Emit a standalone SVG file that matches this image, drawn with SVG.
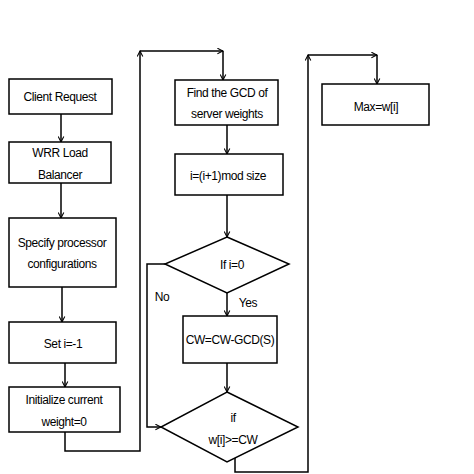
<svg xmlns="http://www.w3.org/2000/svg" width="474" height="474" viewBox="0 0 474 474">
<style>
.box{fill:#fff;stroke:#000;stroke-width:1.5}
.t{font-family:"Liberation Sans",Arial,sans-serif;font-size:12px;fill:#000;text-anchor:middle;letter-spacing:-0.4px}
.c{fill:none;stroke:#000;stroke-width:1.5}
</style>
<defs>
<marker id="a" viewBox="0 0 10 10" refX="9" refY="5" markerWidth="7" markerHeight="7" orient="auto" markerUnits="userSpaceOnUse">
<path d="M1,1 L9,5 L1,9" fill="none" stroke="#000" stroke-width="1.5"/>
</marker>
</defs>
<rect width="474" height="474" fill="#fff"/>
<g id="connectors">
<line class="c" x1="61" y1="114" x2="61" y2="142" marker-end="url(#a)"/>
<line class="c" x1="61" y1="183" x2="61" y2="218" marker-end="url(#a)"/>
<line class="c" x1="62" y1="287" x2="62" y2="322" marker-end="url(#a)"/>
<line class="c" x1="65" y1="363" x2="65" y2="387" marker-end="url(#a)"/>
<polyline class="c" points="65,432 65,451 140,451 140,51" marker-end="url(#a)"/>
<polyline class="c" points="140,51 223,51" marker-end="url(#a)"/>
<line class="c" x1="223" y1="51" x2="223" y2="80" marker-end="url(#a)"/>
<line class="c" x1="227" y1="125" x2="227" y2="154" marker-end="url(#a)"/>
<line class="c" x1="227" y1="195" x2="227" y2="237" marker-end="url(#a)"/>
<line class="c" x1="227" y1="293" x2="227" y2="316" marker-end="url(#a)"/>
<line class="c" x1="227" y1="363" x2="227" y2="392" marker-end="url(#a)"/>
<polyline class="c" points="165,264 147,264 147,427 161,427" marker-end="url(#a)"/>
<polyline class="c" points="235,457 235,472 308,472 308,55" stroke-width="2" marker-end="url(#a)"/>
<polyline class="c" points="308,55 377,55" marker-end="url(#a)"/>
<line class="c" x1="377" y1="55" x2="377" y2="84" marker-end="url(#a)"/>
<text class="t" x="162" y="301">No</text>
<text class="t" x="248" y="307">Yes</text>
</g>
<g id="client"><rect class="box" x="9" y="79" width="103" height="35"/><text class="t" x="60" y="101">Client Request</text></g>
<g id="wrr"><rect class="box" x="9" y="142" width="102" height="41"/><text class="t" x="60" y="157">WRR Load</text><text class="t" x="60" y="179">Balancer</text></g>
<g id="specify"><rect class="box" x="9" y="218" width="107" height="69"/><text class="t" x="62" y="247">Specify processor</text><text class="t" x="62" y="268">configurations</text></g>
<g id="seti"><rect class="box" x="9" y="322" width="107" height="41"/><text class="t" x="63" y="348">Set i=-1</text></g>
<g id="init"><rect class="box" x="9" y="387" width="111" height="45"/><text class="t" x="64" y="404">Initialize current</text><text class="t" x="64" y="426">weight=0</text></g>
<g id="gcd"><rect class="box" x="175" y="80" width="103" height="45"/><text class="t" x="227" y="97">Find the GCD of</text><text class="t" x="227" y="118">server weights</text></g>
<g id="imod"><rect class="box" x="175" y="154" width="108" height="41"/><text class="t" x="228" y="180">i=(i+1)mod size</text></g>
<g id="ifi0"><polygon class="box" points="227,237 289,264 227,293 165,264"/><text class="t" x="232" y="269">If i=0</text></g>
<g id="cw"><rect class="box" x="183" y="316" width="94" height="47"/><text class="t" x="230" y="344">CW=CW-GCD(S)</text></g>
<g id="ifw"><polygon class="box" points="227,392 298,427 227,462 161,427"/><text class="t" x="233" y="422">if</text><text class="t" x="233" y="444">w[i]&gt;=CW</text></g>
<g id="max"><rect class="box" x="322" y="84" width="107" height="41"/><text class="t" x="376" y="111">Max=w[i]</text></g>
</svg>
